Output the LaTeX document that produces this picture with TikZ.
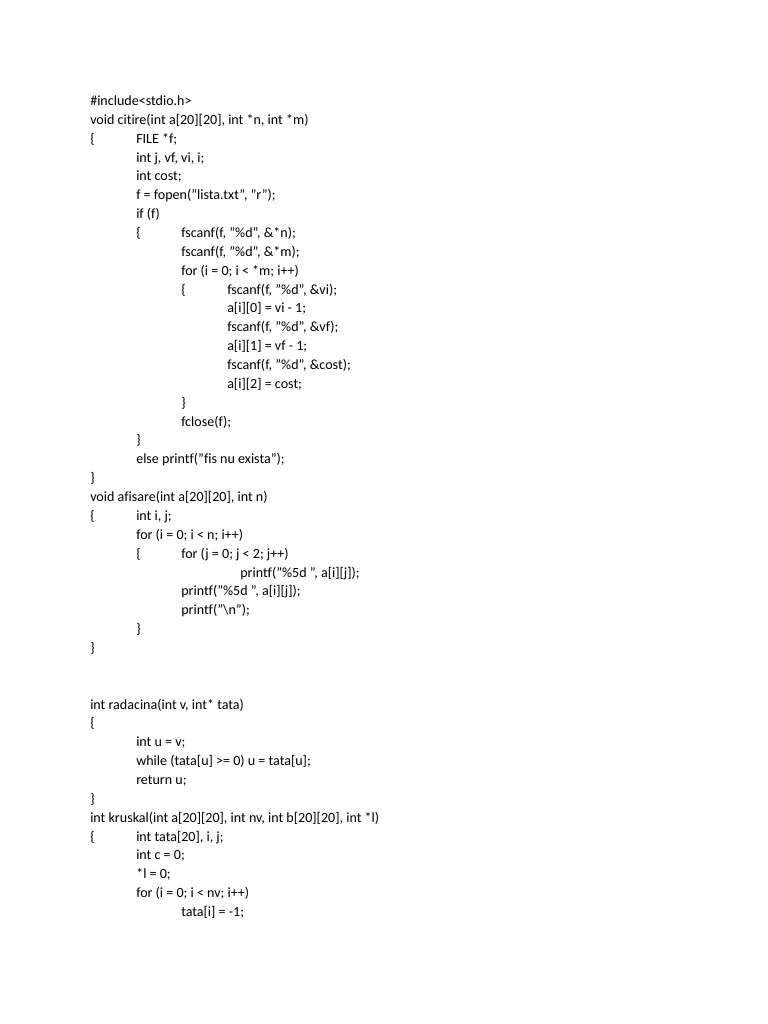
\documentclass[tikz,border=0pt]{standalone}
\usepackage{fontspec}
\setmainfont[Ligatures=NoCommon]{Carlito}
\begin{document}
\begin{tikzpicture}[x=0.796875pt,y=-0.796875pt,
  codetext/.style={anchor=base west,inner sep=0pt,font=\fontsize{11.2}{13}\selectfont}]
\useasboundingbox[fill=white] (0,0) rectangle (768,1024);
\newcommand\cl[3]{\node[codetext] (n#1x#2) at (#2,{101+(#1-1)*18.86+4.5}) {#3};}
\cl{1}{90}{\#include<stdio.h>}
\cl{2}{90}{void citire(int a[20][20], int *n, int *m)}
\cl{3}{90}{\{}\cl{3}{136}{FILE *f;}
\cl{4}{136}{int j, vf, vi, i;}
\cl{5}{136}{int cost;}
\cl{6}{136}{f = fopen("lista.txt", "r");}
\cl{7}{136}{if (f)}
\cl{8}{136}{\{}\cl{8}{181}{fscanf(f, "\%d", \&*n);}
\cl{9}{181}{fscanf(f, "\%d", \&*m);}
\cl{10}{181}{for (i = 0; i < *m; i++)}
\cl{11}{181}{\{}\cl{11}{227}{fscanf(f, "\%d", \&vi);}
\cl{12}{227}{a[i][0] = vi - 1;}
\cl{13}{227}{fscanf(f, "\%d", \&vf);}
\cl{14}{227}{a[i][1] = vf - 1;}
\cl{15}{227}{fscanf(f, "\%d", \&cost);}
\cl{16}{227}{a[i][2] = cost;}
\cl{17}{181}{\}}
\cl{18}{181}{fclose(f);}
\cl{19}{136}{\}}
\cl{20}{136}{else printf("fis nu exista");}
\cl{21}{90}{\}}
\cl{22}{90}{void afisare(int a[20][20], int n)}
\cl{23}{90}{\{}\cl{23}{136}{int i, j;}
\cl{24}{136}{for (i = 0; i < n; i++)}
\cl{25}{136}{\{}\cl{25}{181}{for (j = 0; j < 2; j++)}
\cl{26}{240}{printf("\%5d ", a[i][j]);}
\cl{27}{181}{printf("\%5d ", a[i][j]);}
\cl{28}{181}{printf("\textbackslash n");}
\cl{29}{136}{\}}
\cl{30}{90}{\}}
\cl{33}{90}{int radacina(int v, int* tata)}
\cl{34}{90}{\{}
\cl{35}{136}{int u = v;}
\cl{36}{136}{while (tata[u] >= 0) u = tata[u];}
\cl{37}{136}{return u;}
\cl{38}{90}{\}}
\cl{39}{90}{int kruskal(int a[20][20], int nv, int b[20][20], int *l)}
\cl{40}{90}{\{}\cl{40}{136}{int tata[20], i, j;}
\cl{41}{136}{int c = 0;}
\cl{42}{136}{*l = 0;}
\cl{43}{136}{for (i = 0; i < nv; i++)}
\cl{44}{181}{tata[i] = -1;}
\end{tikzpicture}
\end{document}
